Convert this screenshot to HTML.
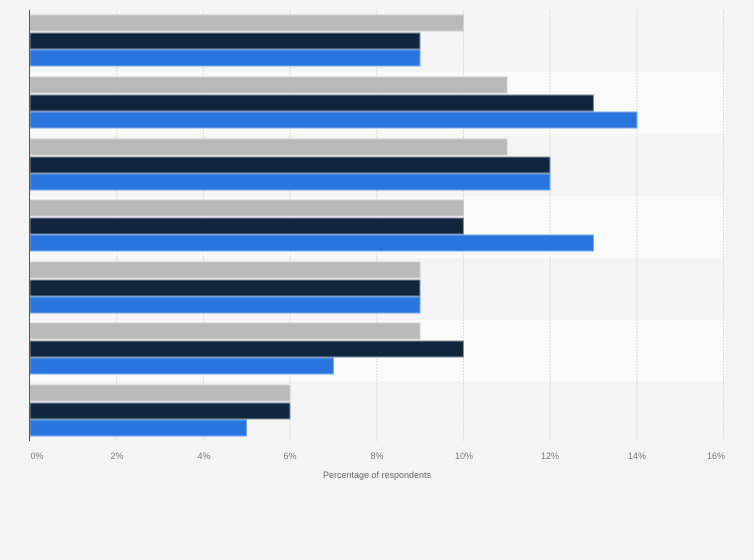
<!DOCTYPE html>
<html><head><style>
body{margin:0;background:#f4f4f4;}
svg{display:block;font-family:"Liberation Sans",sans-serif;}
</style></head><body>
<svg width="754" height="560" xmlns="http://www.w3.org/2000/svg">
<rect width="754" height="560" fill="#f4f4f4"/>
<g fill="#fafafa">
<rect x="30" y="72" width="695" height="62"/>
<rect x="30" y="196" width="695" height="62"/>
<rect x="30" y="320" width="695" height="61"/>
</g>
<g stroke="#dcdcdc" stroke-width="1" stroke-dasharray="2,1">
<line x1="116.7" y1="10" x2="116.7" y2="441"/>
<line x1="203.4" y1="10" x2="203.4" y2="441"/>
<line x1="290.1" y1="10" x2="290.1" y2="441"/>
<line x1="376.8" y1="10" x2="376.8" y2="441"/>
<line x1="463.5" y1="10" x2="463.5" y2="441"/>
<line x1="550.2" y1="10" x2="550.2" y2="441"/>
<line x1="636.9" y1="10" x2="636.9" y2="441"/>
<line x1="723.6" y1="10" x2="723.6" y2="441"/>
</g>
<g id="bars" stroke-width="1">
<!-- G1 -->
<rect x="30" y="15" width="433.5" height="16" fill="#b9b9b9" stroke="#d0d0d0"/>
<rect x="30" y="33" width="390" height="16" fill="#10263f" stroke="#8090a0"/>
<rect x="30" y="50" width="390" height="16" fill="#2876dd" stroke="#7aa8ea"/>
<!-- G2 -->
<rect x="30" y="77" width="477" height="16" fill="#b9b9b9" stroke="#d0d0d0"/>
<rect x="30" y="95" width="563.5" height="16" fill="#10263f" stroke="#8090a0"/>
<rect x="30" y="112" width="607" height="16" fill="#2876dd" stroke="#7aa8ea"/>
<!-- G3 -->
<rect x="30" y="139" width="477" height="16" fill="#b9b9b9" stroke="#d0d0d0"/>
<rect x="30" y="157" width="520" height="16" fill="#10263f" stroke="#8090a0"/>
<rect x="30" y="174" width="520" height="16" fill="#2876dd" stroke="#7aa8ea"/>
<!-- G4 -->
<rect x="30" y="200" width="433.5" height="16" fill="#b9b9b9" stroke="#d0d0d0"/>
<rect x="30" y="218" width="433.5" height="16" fill="#10263f" stroke="#8090a0"/>
<rect x="30" y="235" width="563.5" height="16" fill="#2876dd" stroke="#7aa8ea"/>
<!-- G5 -->
<rect x="30" y="262" width="390" height="16" fill="#b9b9b9" stroke="#d0d0d0"/>
<rect x="30" y="280" width="390" height="16" fill="#10263f" stroke="#8090a0"/>
<rect x="30" y="297" width="390" height="16" fill="#2876dd" stroke="#7aa8ea"/>
<!-- G6 -->
<rect x="30" y="323" width="390" height="16" fill="#b9b9b9" stroke="#d0d0d0"/>
<rect x="30" y="341" width="433.5" height="16" fill="#10263f" stroke="#8090a0"/>
<rect x="30" y="358" width="303.5" height="16" fill="#2876dd" stroke="#7aa8ea"/>
<!-- G7 -->
<rect x="30" y="385" width="260" height="16" fill="#b9b9b9" stroke="#d0d0d0"/>
<rect x="30" y="403" width="260" height="16" fill="#10263f" stroke="#8090a0"/>
<rect x="30" y="420" width="216.5" height="16" fill="#2876dd" stroke="#7aa8ea"/>
</g>
<line x1="29.5" y1="10" x2="29.5" y2="441" stroke="#555" stroke-width="1"/>
<g font-size="9" fill="#777" text-anchor="middle">
<text x="37" y="459">0%</text>
<text x="117" y="459">2%</text>
<text x="204" y="459">4%</text>
<text x="290" y="459">6%</text>
<text x="377" y="459">8%</text>
<text x="464" y="459">10%</text>
<text x="550" y="459">12%</text>
<text x="637" y="459">14%</text>
<text x="716" y="459">16%</text>
<text x="377" y="478" fill="#666">Percentage of respondents</text>
</g>
</svg>
</body></html>
